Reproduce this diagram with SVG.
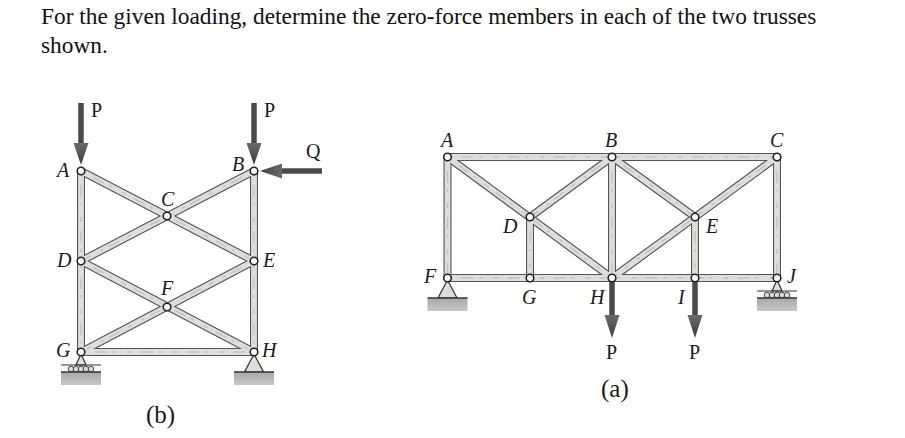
<svg xmlns="http://www.w3.org/2000/svg" width="905" height="438" viewBox="0 0 905 438">
<style>
text{font-family:"Liberation Serif","Times New Roman",serif;fill:#1a1a1a}
.t{font-size:23.35px;fill:#111}
.l{font-size:20px;font-style:italic}
.p{font-size:20px}
.cap{font-size:25px}
.m{stroke:#555;stroke-width:8;fill:none}
.i{stroke:#dededa;stroke-width:5.800;fill:none}
.h{stroke:#c4c4c0;stroke-width:1.500;stroke-dasharray:5 9 12 6 3 11;fill:none}
.n{fill:#fff;stroke:#222;stroke-width:1.6}
.g{fill:url(#gnd)}
.k{stroke:#333;stroke-width:1.2;fill:#ddd}
.s{stroke:#333;stroke-width:1.2;fill:none}
.r{fill:#ddd;stroke:#333;stroke-width:.9}
.shaft{fill:#4a4a4a}
.head{fill:url(#hd)}
.headh{fill:url(#hdh)}
</style>
<defs>
<linearGradient id="gnd" x1="0" y1="0" x2="0" y2="1"><stop offset="0" stop-color="#a8a8a6"/><stop offset="1" stop-color="#c8c8c6"/></linearGradient>
<linearGradient id="hd" x1="0" y1="0" x2="0" y2="1"><stop offset="0" stop-color="#6a6a6a"/><stop offset="1" stop-color="#3e3e3e"/></linearGradient>
<linearGradient id="hdh" x1="1" y1="0" x2="0" y2="0"><stop offset="0" stop-color="#6a6a6a"/><stop offset="1" stop-color="#3e3e3e"/></linearGradient>
<g id="pin"><path class="k" d="M0 2L-9.500 20H9.500Z"/><rect class="g" x="-20" y="20" width="40" height="13"/><path d="M-20 20H20" stroke="#333" stroke-width="1.600"/></g>
<g id="rol"><path class="k" d="M0 2L-5 13H5Z"/><path class="s" d="M-20 13H20"/><circle class="r" cx="-10" cy="17" r="2.800"/><circle class="r" cx="-5" cy="17" r="2.800"/><circle class="r" cx="0" cy="17" r="2.800"/><circle class="r" cx="5" cy="17" r="2.800"/><circle class="r" cx="10" cy="17" r="2.800"/><rect class="g" x="-20" y="20" width="40" height="13"/><path d="M-20 20H20" stroke="#333" stroke-width="1.600"/></g>
<g id="ad40"><rect class="shaft" x="-2.750" y="0" width="5.500" height="41"/><path class="head" d="M-7.500 40H7.500L0 62Z"/></g>
<g id="ad55"><rect class="shaft" x="-2.750" y="0" width="5.500" height="35"/><path class="head" d="M-7.500 34H7.500L0 57Z"/></g>
</defs>
<text class="t" x="41" y="24">For the given loading, determine the zero-force members in each of the two trusses</text>
<text class="t" x="41" y="53">shown.</text>

<g id="connectors">
<g id="members-b">
<path class="m" d="M81 171V352M254 171V352M81 352H254M81 171L254 261M254 171L81 261M81 261L254 352M254 261L81 352"/>
<path class="i" d="M81 171V352M254 171V352M81 352H254M81 171L254 261M254 171L81 261M81 261L254 352M254 261L81 352"/>
<path class="h" d="M81 171V352M254 171V352M81 352H254M81 171L254 261M254 171L81 261M81 261L254 352M254 261L81 352"/>
</g>
<g id="members-a">
<path class="m" d="M447.500 157H777M447.500 278H777M447.500 157V278M612 157V278M777 157V278M530 217V278M695 217V278M447.500 157L612 278M612 157L530 217M612 157L695 217M777 157L612 278"/>
<path class="i" d="M447.500 157H777M447.500 278H777M447.500 157V278M612 157V278M777 157V278M530 217V278M695 217V278M447.500 157L612 278M612 157L530 217M612 157L695 217M777 157L612 278"/>
<path class="h" d="M447.500 157H777M447.500 278H777M447.500 157V278M612 157V278M777 157V278M530 217V278M695 217V278M447.500 157L612 278M612 157L530 217M612 157L695 217M777 157L612 278"/>
</g>
<g id="loads">
<use href="#ad40" x="81" y="103"/>
<use href="#ad40" x="254" y="103"/>
<rect class="shaft" x="281" y="168.250" width="41" height="5.500"/>
<path class="headh" d="M282 163.500V178.500L260 171Z"/>
<use href="#ad55" x="612" y="281"/>
<use href="#ad55" x="695" y="281"/>
</g>
</g>

<g id="support-G"><use href="#rol" x="81" y="352"/></g>
<g id="support-H"><use href="#pin" x="254" y="352"/></g>
<g id="support-F"><use href="#pin" x="447.500" y="278"/></g>
<g id="support-J"><use href="#rol" x="777" y="278"/></g>

<g id="b-A"><circle class="n" cx="81" cy="171" r="3.800"/><text class="l" x="57" y="177">A</text></g>
<g id="b-B"><circle class="n" cx="254" cy="171" r="3.800"/><text class="l" x="232" y="171">B</text></g>
<g id="b-C"><circle class="n" cx="167" cy="216" r="3.800"/><text class="l" x="161" y="206">C</text></g>
<g id="b-D"><circle class="n" cx="81" cy="261" r="3.800"/><text class="l" x="57" y="267">D</text></g>
<g id="b-E"><circle class="n" cx="254" cy="261" r="3.800"/><text class="l" x="263" y="267">E</text></g>
<g id="b-F"><circle class="n" cx="167" cy="307" r="3.800"/><text class="l" x="161" y="295">F</text></g>
<g id="b-G"><circle class="n" cx="81" cy="352" r="3.800"/><text class="l" x="56" y="357">G</text></g>
<g id="b-H"><circle class="n" cx="254" cy="352" r="3.800"/><text class="l" x="262" y="357">H</text></g>
<text class="p" x="91" y="117">P</text>
<text class="p" x="264" y="117">P</text>
<text class="p" x="306" y="158">Q</text>
<text class="cap" x="146" y="423">(b)</text>

<g id="a-A"><circle class="n" cx="447.500" cy="157" r="3.800"/><text class="l" x="441" y="147">A</text></g>
<g id="a-B"><circle class="n" cx="612" cy="157" r="3.800"/><text class="l" x="605" y="147">B</text></g>
<g id="a-C"><circle class="n" cx="777" cy="157" r="3.800"/><text class="l" x="770" y="147">C</text></g>
<g id="a-D"><circle class="n" cx="530" cy="217" r="3.800"/><text class="l" x="503" y="233">D</text></g>
<g id="a-E"><circle class="n" cx="695" cy="217" r="3.800"/><text class="l" x="706" y="233">E</text></g>
<g id="a-F"><circle class="n" cx="447.500" cy="278" r="3.800"/><text class="l" x="424" y="283">F</text></g>
<g id="a-G"><circle class="n" cx="530" cy="278" r="3.800"/><text class="l" x="522" y="304">G</text></g>
<g id="a-H"><circle class="n" cx="612" cy="278" r="3.800"/><text class="l" x="590" y="304">H</text></g>
<g id="a-I"><circle class="n" cx="695" cy="278" r="3.800"/><text class="l" x="678" y="304">I</text></g>
<g id="a-J"><circle class="n" cx="777" cy="278" r="3.800"/><text class="l" x="787" y="283" font-size="22">J</text></g>
<text class="p" x="606" y="359">P</text>
<text class="p" x="689" y="359">P</text>
<text class="cap" x="601" y="397">(a)</text>
</svg>
